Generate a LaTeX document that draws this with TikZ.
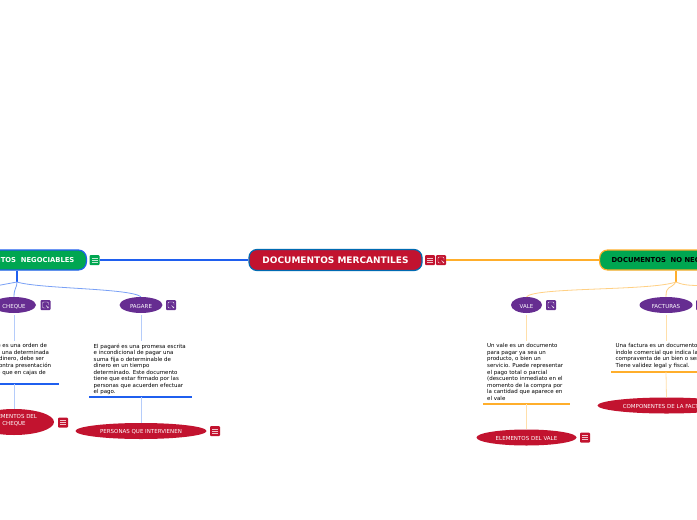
\documentclass[tikz,border=0pt]{standalone}
\usepackage{fontspec}
\setmainfont{DejaVu Sans}
\usetikzlibrary{positioning,shapes.geometric}
\definecolor{crimson}{HTML}{C2132F}
\definecolor{leaf}{HTML}{00A651}
\definecolor{grape}{HTML}{662D91}
\definecolor{bluelink}{HTML}{1F5FEF}
\definecolor{paleblue}{HTML}{B5CCFA}
\definecolor{amber}{HTML}{FFAE2B}
\definecolor{paleamber}{HTML}{FFDFAA}
\begin{document}
\begin{tikzpicture}[x=1pt,y=-1pt,
    mainbox/.style={rectangle, rounded corners=8pt, line width=1.2pt, text=white, font=\bfseries\fontsize{9}{10}\selectfont, minimum height=21pt, inner sep=0pt},
    subbox/.style={mainbox, fill=leaf, font=\bfseries\fontsize{6.8}{8}\selectfont, minimum height=20pt, inner xsep=12pt},
    topic/.style={ellipse, fill=grape, text=white, font=\fontsize{5.5}{6.5}\selectfont, minimum height=16pt, inner sep=0pt, text height=6pt, text depth=0pt},
    leafnode/.style={ellipse, fill=crimson, text=white, font=\fontsize{5.5}{6.6}\selectfont, minimum height=16pt, inner sep=0pt, align=center, text height=6pt},
    bodytext/.style={anchor=north west, align=left, inner sep=0pt, text=black, font=\fontsize{5.5}{6.55}\selectfont},
    menuicon/.style={rectangle, rounded corners=1pt, fill=#1, minimum size=10pt, inner sep=0pt,
        path picture={\draw[white!75!#1, line width=.5pt] (-3pt,-2pt) -- (3pt,-2pt) (-3pt,0pt) -- (3pt,0pt) (-3pt,2pt) -- (3pt,2pt);}},
    noteicon/.style={rectangle, rounded corners=1pt, fill=#1, minimum size=10pt, inner sep=0pt,
        path picture={\draw[white!85!#1, line width=.45pt] (0pt,-3pt) -- (-3pt,-3pt) -- (-3pt,3pt) -- (3pt,3pt) -- (3pt,0pt) (.5pt,-.5pt) -- (3pt,-3pt) (1.5pt,-3pt) -- (3pt,-3pt) -- (3pt,-1.5pt);}},
    strong/.style={line width=1.5pt},
    soft/.style={line width=.8pt}]
\useasboundingbox (0,0) rectangle (697,520);
\path[fill=white] (0,0) rectangle (697,520);

% root
\node[mainbox, fill=crimson, draw=blue!40!cyan!70!black, minimum width=173pt] (root) at (335.5,260) {DOCUMENTOS MERCANTILES};
\node[menuicon=crimson] (rootmenu) at (430,260) {};
\node[noteicon=crimson] (rootnote) at (441,260) {};

% left branch
\node[subbox, draw=bluelink, anchor=east] (nego) at (87,260) {DOCUMENTOS\ \ NEGOCIABLES};
\node[menuicon=leaf] (negomenu) at (94.5,260) {};
\coordinate (negofork) at (17,282);
\node[topic, minimum width=44pt] (cheque) at (14,305) {CHEQUE};
\node[noteicon=grape] (chequenote) at (45.5,305) {};
\node[topic, minimum width=43pt] (pagare) at (141,305) {PAGARE};
\node[noteicon=grape] (pagarenote) at (171,305) {};
\coordinate (chequetop) at (14,315);
\coordinate (pagaretop) at (141,315);
\coordinate (chequetext) at (14,341);
\coordinate (pagaretext) at (141,341);
\node[bodytext] (chequebody) at (-26.5,343.5) {El cheque es una orden de\\pago, por una determinada\\suma de dinero, debe ser\\pagado contra presentación\\al cheque que en cajas de};
\node[bodytext] (pagarebody) at (93.5,343.5) {El pagaré es una promesa escrita\\e incondicional de pagar una\\suma fija o determinable de\\dinero en un tiempo\\determinado. Este documento\\tiene que estar firmado por las\\personas que acuerden efectuar\\el pago.};
\coordinate (chequerulea) at (-44,384);
\coordinate (chequeruleb) at (59,384);
\coordinate (pagarerulea) at (89,397);
\coordinate (pagareruleb) at (192,397);
\coordinate (chequemid) at (14,384);
\coordinate (pagaremid) at (141,397);
\node[leafnode, minimum width=80pt, minimum height=26pt, text height=7pt] (chequeleaf) at (14,422) {ELEMENTOS DEL\\CHEQUE};
\node[menuicon=crimson] (chequemenu) at (63,422.5) {};
\node[leafnode, minimum width=131pt] (pagareleaf) at (141,431) {PERSONAS QUE INTERVIENEN};
\node[menuicon=crimson] (pagaremenu) at (215,431) {};

\draw[bluelink, strong] (negomenu) -- (root);
\draw[bluelink, strong] (negofork |- nego.south) -- (negofork);
\draw[paleblue!60!bluelink, soft] (negofork) .. controls (17,288) and (14,288) .. (cheque.north);
\draw[paleblue!60!bluelink, soft] (negofork) .. controls (40,289) and (130,288) .. (pagare.north);
\draw[paleblue!60!bluelink, soft] (negofork) -- (-10,287);
\draw[paleblue, soft] (chequetop) -- (chequetext);
\draw[paleblue, soft] (pagaretop) -- (pagaretext);
\draw[bluelink, strong] (chequerulea) -- (chequeruleb);
\draw[bluelink, strong] (pagarerulea) -- (pagareruleb);
\draw[paleblue, soft] (chequemid) -- (chequeleaf.north);
\draw[paleblue, soft] (pagaremid) -- (pagareleaf.north);

% right branch
\node[subbox, draw=amber, text=black, anchor=west] (nonego) at (599,260) {DOCUMENTOS\ \ NO NEGOCIABLES};
\coordinate (nonegofork) at (676,282);
\node[topic, minimum width=31pt] (vale) at (526.5,305) {VALE};
\node[noteicon=grape] (valenote) at (551,305) {};
\node[topic, minimum width=53pt] (facturas) at (666,305) {FACTURAS};
\node[noteicon=grape] (facturasnote) at (701,305) {};
\coordinate (valetop) at (526.5,315);
\coordinate (facturastop) at (666,315);
\coordinate (valetext) at (526.5,341);
\coordinate (facturastext) at (666,341);
\node[bodytext] (valebody) at (487,343.5) {Un vale es un documento\\para pagar ya sea un\\producto, o bien un\\servicio. Puede representar\\el pago total o parcial\\(descuento inmediato en el\\momento de la compra por\\la cantidad que aparece en\\el vale};
\node[bodytext] (facturasbody) at (615.5,343.5) {Una factura es un documento de\\índole comercial que indica la\\compraventa de un bien o servicio.\\Tiene validez legal y fiscal.};
\coordinate (valerulea) at (483,404);
\coordinate (valeruleb) at (570,404);
\coordinate (facturasrulea) at (611,372);
\coordinate (facturasruleb) at (720,372);
\coordinate (valemid) at (526.5,404);
\coordinate (facturasmid) at (666,372);
\node[leafnode, minimum width=100pt] (valeleaf) at (526.5,437.5) {ELEMENTOS DEL VALE};
\node[menuicon=crimson] (valemenu) at (585,437.5) {};
\node[leafnode, minimum width=138pt] (facturasleaf) at (666.5,405.5) {COMPONENTES DE LA FACTURA};

\draw[amber, strong] (rootnote) -- (nonego);
\draw[amber, strong] (nonegofork |- nonego.south) -- (nonegofork);
\draw[paleamber!70!amber, soft] (nonegofork) .. controls (650,291) and (535,287) .. (vale.north);
\draw[paleamber!70!amber, soft] (nonegofork) .. controls (670,290) and (666,285) .. (facturas.north);
\draw[paleamber!70!amber, soft] (nonegofork) .. controls (685,286) and (692,285) .. (705,286);
\draw[paleamber, soft] (valetop) -- (valetext);
\draw[paleamber, soft] (facturastop) -- (facturastext);
\draw[amber, strong] (valerulea) -- (valeruleb);
\draw[amber, strong] (facturasrulea) -- (facturasruleb);
\draw[paleamber, soft] (valemid) -- (valeleaf.north);
\draw[paleamber, soft] (facturasmid) -- (facturasleaf.north);
\end{tikzpicture}
\end{document}
